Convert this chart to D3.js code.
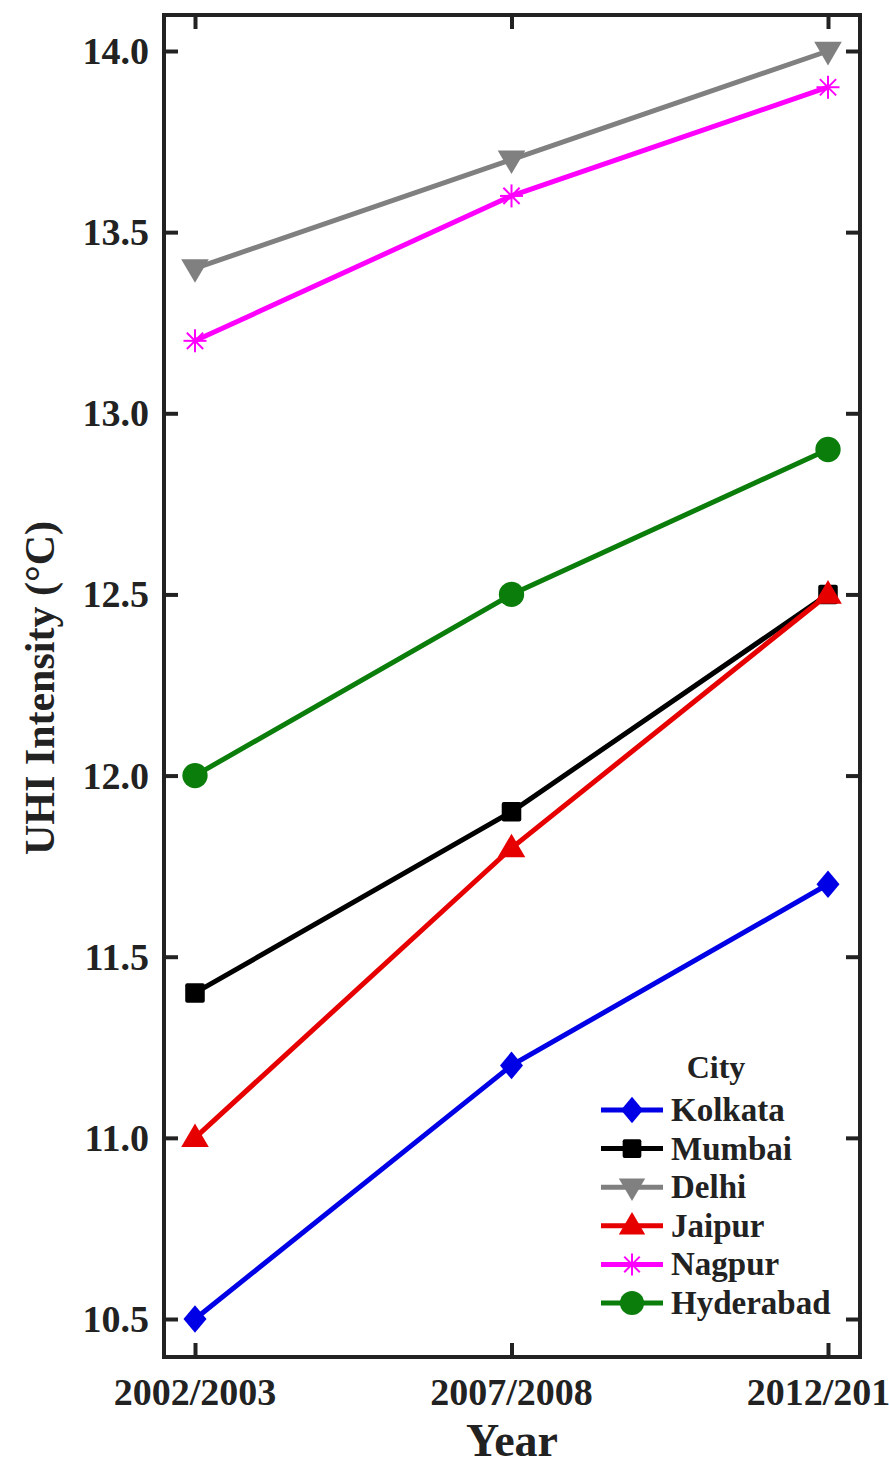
<!DOCTYPE html>
<html>
<head>
<meta charset="utf-8">
<script src="https://cdn.jsdelivr.net/npm/d3@7"></script>
<style>
  body { margin: 0; background: #fff; }
  text { font-family: "Liberation Serif", "Times New Roman", serif; font-weight: bold; fill: #222; }
</style>
</head>
<body>
<svg id="chart"></svg>
<script>
const years = ['2002/2003', '2007/2008', '2012/2013'];
const cities = ['Kolkata', 'Mumbai', 'Delhi', 'Jaipur', 'Nagpur', 'Hyderabad'];
const kolkata = [10.5, 11.2, 11.7];
const mumbai = [11.4, 11.9, 12.5];
const delhi = [13.4, 13.7, 14.0];
const jaipur = [11.0, 11.8, 12.5];
const nagpur = [13.2, 13.6, 13.9];
const hyderabad = [12.0, 12.5, 12.9];
const yTicks = [10.5, 11.0, 11.5, 12.0, 12.5, 13.0, 13.5, 14.0];

const colors = ['#0000e6', '#000000', '#808080', '#e60000', '#ff00ff', '#0a7d0a'];
const symbols = ['diamond', 'square', 'down', 'up', 'star', 'circle'];
const values = [kolkata, mumbai, delhi, jaipur, nagpur, hyderabad];

const width = 889, height = 1468;
const frameL = 164, frameR = 860, frameT = 15, frameB = 1357;

let svg = d3.select('#chart')
    .attr('width', width)
    .attr('height', height);

let xScale = d3.scalePoint()
    .domain(years)
    .range([195, 828]);

let yScale = d3.scaleLinear()
    .domain([10.5, 14.0])
    .range([1319, 51]);

// draw a marker at (x, y)
const marker = (g, type, x, y, color, s) => {
  if (type === 'diamond') {
    g.append('path').attr('d', `M${x},${y - s * 1.2}L${x + s},${y}L${x},${y + s * 1.2}L${x - s},${y}Z`).attr('fill', color);
  } else if (type === 'square') {
    g.append('rect').attr('x', x - s * 0.85).attr('y', y - s * 0.85).attr('width', s * 1.7).attr('height', s * 1.7).attr('rx', 2).attr('fill', color);
  } else if (type === 'down') {
    g.append('path').attr('d', `M${x - s * 1.2},${y - s * 0.8}L${x + s * 1.2},${y - s * 0.8}L${x},${y + s * 1.25}Z`).attr('fill', color);
  } else if (type === 'up') {
    g.append('path').attr('d', `M${x - s * 1.2},${y + s * 0.8}L${x + s * 1.2},${y + s * 0.8}L${x},${y - s * 1.25}Z`).attr('fill', color);
  } else if (type === 'star') {
    for (let a = 0; a < 4; a++) {
      let ang = a * Math.PI / 4;
      g.append('line')
        .attr('x1', x - Math.cos(ang) * s).attr('y1', y - Math.sin(ang) * s)
        .attr('x2', x + Math.cos(ang) * s).attr('y2', y + Math.sin(ang) * s)
        .attr('stroke', color).attr('stroke-width', 2);
    }
  } else {
    g.append('circle').attr('cx', x).attr('cy', y).attr('r', s * 1.1).attr('fill', color);
  }
};

let line = d3.line()
    .x((d, i) => xScale(years[i]))
    .y(d => yScale(d));

values.forEach((vals, k) => {
  let g = svg.append('g');
  g.append('path')
    .attr('d', line(vals))
    .attr('fill', 'none')
    .attr('stroke', colors[k])
    .attr('stroke-width', 5);
  vals.forEach((v, i) => marker(g, symbols[k], xScale(years[i]), yScale(v), colors[k], 11.5));
});

// frame
svg.append('rect')
    .attr('x', frameL).attr('y', frameT)
    .attr('width', frameR - frameL).attr('height', frameB - frameT)
    .attr('fill', 'none').attr('stroke', '#222').attr('stroke-width', 4);

// axes with inward ticks
svg.append('g')
    .attr('transform', `translate(${frameL}, 0)`)
    .call(d3.axisRight(yScale).tickValues(yTicks).tickSize(14).tickFormat(''))
    .call(g => g.select('.domain').remove())
    .selectAll('line').attr('stroke', '#222').attr('stroke-width', 4);

svg.append('g')
    .attr('transform', `translate(${frameR}, 0)`)
    .call(d3.axisLeft(yScale).tickValues(yTicks).tickSize(14).tickFormat(''))
    .call(g => g.select('.domain').remove())
    .selectAll('line').attr('stroke', '#222').attr('stroke-width', 4);

svg.append('g')
    .attr('transform', `translate(0, ${frameB})`)
    .call(d3.axisTop(xScale).tickSize(14).tickFormat(''))
    .call(g => g.select('.domain').remove())
    .selectAll('line').attr('stroke', '#222').attr('stroke-width', 4);

svg.append('g')
    .attr('transform', `translate(0, ${frameT})`)
    .call(d3.axisBottom(xScale).tickSize(14).tickFormat(''))
    .call(g => g.select('.domain').remove())
    .selectAll('line').attr('stroke', '#222').attr('stroke-width', 4);

// tick labels
svg.selectAll('.ylab')
    .data(yTicks)
    .enter()
    .append('text')
    .attr('class', 'ylab')
    .attr('x', 149)
    .attr('y', d => yScale(d) + 13)
    .attr('text-anchor', 'end')
    .style('font-size', '38px')
    .text(d => d.toFixed(1));

svg.selectAll('.xlab')
    .data(years)
    .enter()
    .append('text')
    .attr('class', 'xlab')
    .attr('x', d => xScale(d))
    .attr('y', 1405)
    .attr('text-anchor', 'middle')
    .style('font-size', '38px')
    .text(d => d);

svg.append('text')
    .attr('x', 512).attr('y', 1456)
    .attr('text-anchor', 'middle')
    .style('font-size', '46px')
    .text('Year');

svg.append('text')
    .attr('transform', `translate(54, ${688}) rotate(-90)`)
    .attr('text-anchor', 'middle')
    .style('font-size', '42px')
    .text('UHI Intensity (°C)');

// legend
svg.append('text')
    .attr('x', 716).attr('y', 1078)
    .attr('text-anchor', 'middle')
    .style('font-size', '32px')
    .text('City');

cities.forEach((c, k) => {
  let y = 1110 + k * 38.6;
  let g = svg.append('g');
  g.append('line')
    .attr('x1', 601).attr('x2', 663)
    .attr('y1', y).attr('y2', y)
    .attr('stroke', colors[k]).attr('stroke-width', 5);
  marker(g, symbols[k], 632, y, colors[k], 11);
  g.append('text')
    .attr('x', 671).attr('y', y + 11)
    .style('font-size', '33px')
    .text(c);
});
</script>
</body>
</html>
